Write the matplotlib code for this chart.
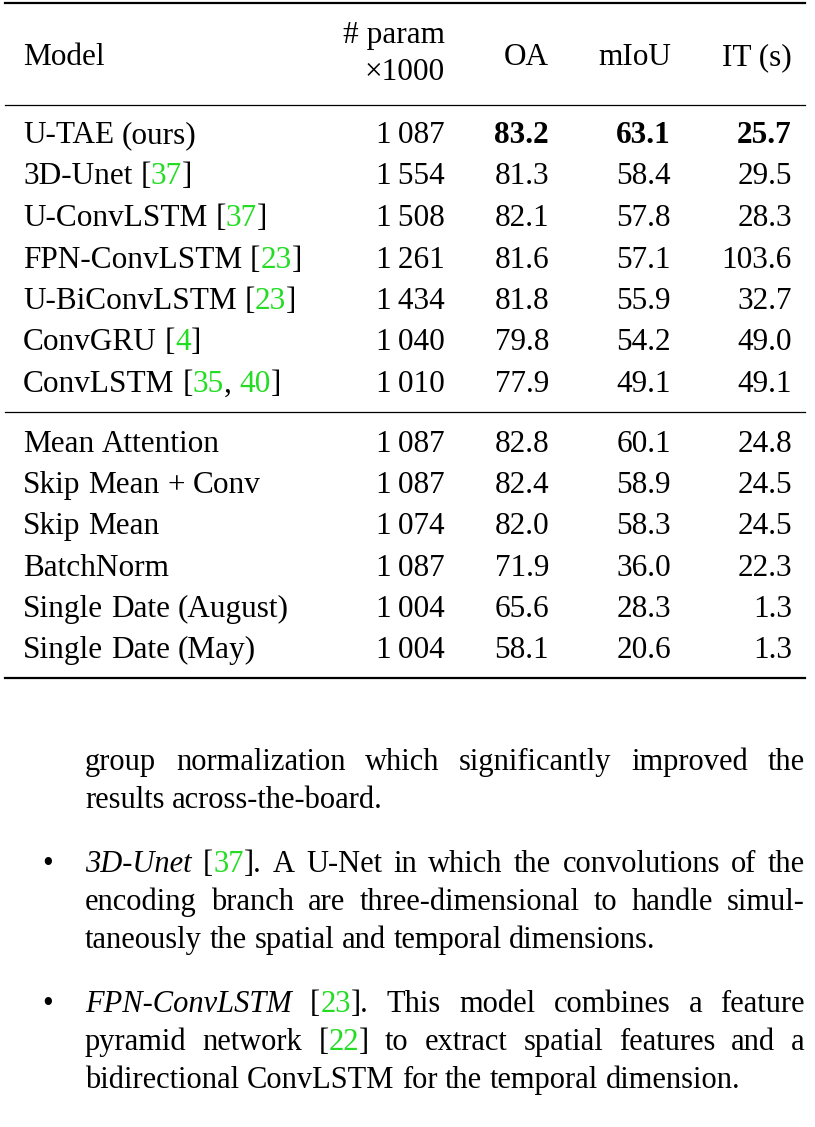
import matplotlib
matplotlib.use("Agg")
import matplotlib.pyplot as plt

# table data
models = ["U-TAE (ours)", "3D-Unet", "U-ConvLSTM", "FPN-ConvLSTM", "U-BiConvLSTM",
          "ConvGRU", "ConvLSTM", "Mean Attention", "Skip Mean + Conv", "Skip Mean",
          "BatchNorm", "Single Date (August)", "Single Date (May)"]
refs = [[], ["37"], ["37"], ["23"], ["23"], ["4"], ["35", "40"], [], [], [], [], [], []]
params = [1087, 1554, 1508, 1261, 1434, 1040, 1010, 1087, 1087, 1074, 1087, 1004, 1004]
oa = [83.2, 81.3, 82.1, 81.6, 81.8, 79.8, 77.9, 82.8, 82.4, 82.0, 71.9, 65.6, 58.1]
miou = [63.1, 58.4, 57.8, 57.1, 55.9, 54.2, 49.1, 60.1, 58.9, 58.3, 36.0, 28.3, 20.6]
it_s = [25.7, 29.5, 28.3, 103.6, 32.7, 49.0, 49.1, 24.8, 24.5, 24.5, 22.3, 1.3, 1.3]
bold_row = 0  # "ours" row printed in bold

FS = 22.5
FS_P = 22
FAM = ["Liberation Serif", "DejaVu Serif"]
GREEN = "#22dd22"
STY = {"n": dict(), "b": dict(fontweight="bold"), "i": dict(fontstyle="italic"),
       "g": dict(color=GREEN)}

fig = plt.figure(figsize=(8.15, 11.27), dpi=100)
ax = fig.add_axes([0, 0, 1, 1])
ax.set_xlim(0, 815)
ax.set_ylim(1127, 0)
ax.axis("off")
renderer = fig.canvas.get_renderer()
cur_fs = FS


def put(x, y, s, style="n", ha="left"):
    kw = dict(color="black")
    kw.update(STY[style])
    return ax.text(x, y, s, fontsize=cur_fs, family=FAM, va="baseline", ha=ha, **kw)


def width(s, style="n"):
    t = put(0, 0, s, style)
    w = t.get_window_extent(renderer).width
    t.remove()
    return w


def word_w(word):
    return sum(width(s, st) for s, st in word)


def draw_word(x, y, word):
    for s, st in word:
        put(x, y, s, st)
        x += width(s, st)
    return x


def draw_line(x, y, words, right=None):
    ws = [word_w(w) for w in words]
    gap = width("a a") - width("aa")
    if right is not None and len(words) > 1:
        gap = (right - x - sum(ws)) / (len(words) - 1)
    for w, wd in zip(words, ws):
        draw_word(x, y, w)
        x += wd + gap


def fmt_k(p):
    return f"{p:,}".replace(",", "\u2009")


# rules
ax.plot([5, 805], [3, 3], color="black", lw=1.6)
ax.plot([5, 805], [105, 105], color="black", lw=0.9)
ax.plot([5, 805], [412, 412], color="black", lw=0.9)
ax.plot([5, 805], [678, 678], color="black", lw=1.6)

# header
X_MODEL, X_PAR, X_OA, X_MIOU, X_IT = 23, 445, 549, 671, 792
put(X_MODEL, 65, "Model")
put(X_PAR, 43, "# param", ha="right")
put(X_PAR, 80, "\u00d71000", ha="right")
put(X_OA, 65, "OA", ha="right")
put(X_MIOU, 65, "mIoU", ha="right")
put(X_IT, 65, "IT (s)", ha="right")

baselines = [143 + 41.5 * i for i in range(7)] + [452 + 41.2 * i for i in range(6)]
for i, y in enumerate(baselines):
    words = [[(w, "n")] for w in models[i].split(" ")]
    if refs[i]:
        segs = [("[", "n")]
        for j, r in enumerate(refs[i]):
            if j:
                segs.append((",", "n"))
                words.append(segs)
                segs = []
            segs.append((r, "g"))
        segs.append(("]", "n"))
        words.append(segs)
    draw_line(X_MODEL, y, words)
    st = "b" if i == bold_row else "n"
    put(X_PAR, y, fmt_k(params[i]), ha="right")
    put(X_OA, y, f"{oa[i]:.1f}", st, ha="right")
    put(X_MIOU, y, f"{miou[i]:.1f}", st, ha="right")
    put(X_IT, y, f"{it_s[i]:.1f}", st, ha="right")


# paragraph text
cur_fs = FS_P


def W(text):
    return [[(w, "n")] for w in text.split(" ")]


L, R = 85, 805
draw_line(L, 770, W("group normalization which significantly improved the"), R)
draw_line(L, 808, W("results across-the-board."))
put(42, 872, "\u2022")
draw_line(L, 872, [[("3D-Unet", "i")], [("[", "n"), ("37", "g"), ("].", "n")]]
          + W("A U-Net in which the convolutions of the"), R)
draw_line(L, 910, W("encoding branch are three-dimensional to handle simul-"), R)
draw_line(L, 948, W("taneously the spatial and temporal dimensions."))
put(42, 1012, "\u2022")
draw_line(L, 1012, [[("FPN-ConvLSTM", "i")], [("[", "n"), ("23", "g"), ("].", "n")]]
          + W("This model combines a feature"), R)
draw_line(L, 1050, W("pyramid network") + [[("[", "n"), ("22", "g"), ("]", "n")]]
          + W("to extract spatial features and a"), R)
draw_line(L, 1088, W("bidirectional ConvLSTM for the temporal dimension."))

fig.savefig("out.png", dpi=100)
